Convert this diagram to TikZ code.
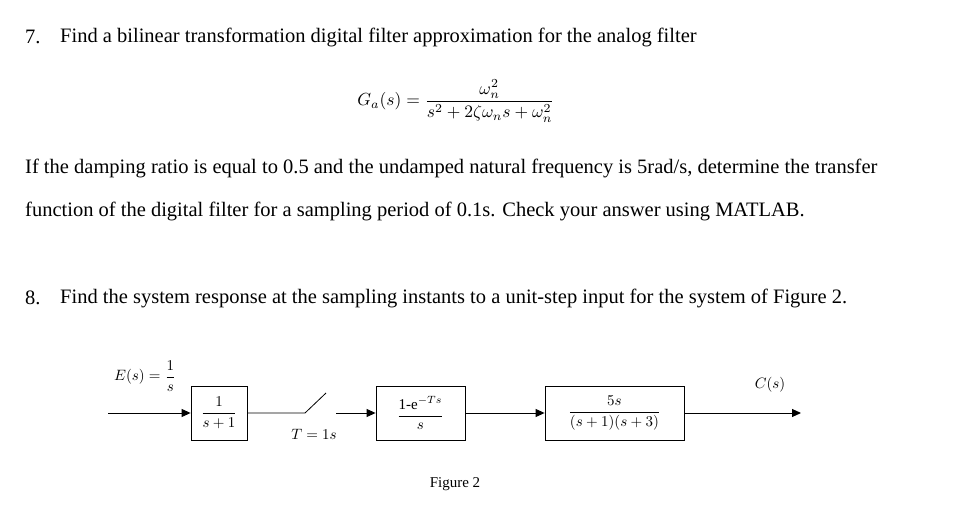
\documentclass[tikz,border=0pt]{standalone}
\usepackage{amsmath}
\usepackage{fontspec}
\setmainfont{Liberation Serif}
\usetikzlibrary{arrows.meta}
\begin{document}
\begin{tikzpicture}[x=1pt,y=-1pt,
  txt/.style={anchor=west,inner sep=0,font=\fontsize{20.5}{24}\selectfont},
  blk/.style={draw,line width=0.8pt,inner sep=0},
  arr/.style={line width=1pt,-{Triangle[length=9pt,width=8pt]}},
  lbl/.style={inner sep=0,scale=1.5}]
\useasboundingbox (0,0) rectangle (958,524);
\node[txt] (n7) at (25,37) {7.};
\node[txt] (t7) at (60,37) {Find a bilinear transformation digital filter approximation for the analog filter};
\node[inner sep=0,scale=1.75] (eq) at (456,101) {$G_a(s)=\dfrac{\omega_n^2}{s^2+2\zeta\omega_n s+\omega_n^2}$};
\node[txt] (p1) at (25,168) {If the damping ratio is equal to 0.5 and the undamped natural frequency is 5rad/s, determine the transfer};
\node[txt] (p2) at (25,211) {function of the digital filter for a sampling period of 0.1s. Check your answer using MATLAB.};
\node[txt] (n8) at (25,298) {8.};
\node[txt] (t8) at (60,298) {Find the system response at the sampling instants to a unit-step input for the system of Figure 2.};
\node[blk,minimum width=56pt,minimum height=54pt] (b1) at (219,413) {};
\node[lbl] at (b1) {$\dfrac{1}{s+1}$};
\node[blk,minimum width=89pt,minimum height=54pt] (b2) at (420.5,413) {};
\node[lbl] at (b2) {$\dfrac{\text{1-e}^{-Ts}}{s}$};
\node[blk,minimum width=139pt,minimum height=54pt] (b3) at (614.5,413) {};
\node[lbl] at (b3) {$\dfrac{5s}{(s+1)(s+3)}$};
\coordinate (in) at (108,413);
\coordinate (sw1) at (305,413);
\coordinate (sw2) at (326,393);
\coordinate (sw3) at (336,413);
\coordinate (out) at (801,413);
\draw[arr] (in) -- (b1.west);
\draw[line width=0.8pt] (b1.east) -- (sw1) -- (sw2);
\draw[arr] (sw3) -- (b2.west);
\draw[arr] (b2.east) -- (b3.west);
\draw[arr] (b3.east) -- (out);
\node[lbl] (E) at (145,376) {$E(s)=\dfrac{1}{s}$};
\node[lbl] (C) at (770,385) {$C(s)$};
\node[lbl] (T) at (314,434) {$T=1s$};
\node[inner sep=0,font=\fontsize{15}{18}\selectfont] (fig) at (455,484) {Figure 2};
\end{tikzpicture}
\end{document}
